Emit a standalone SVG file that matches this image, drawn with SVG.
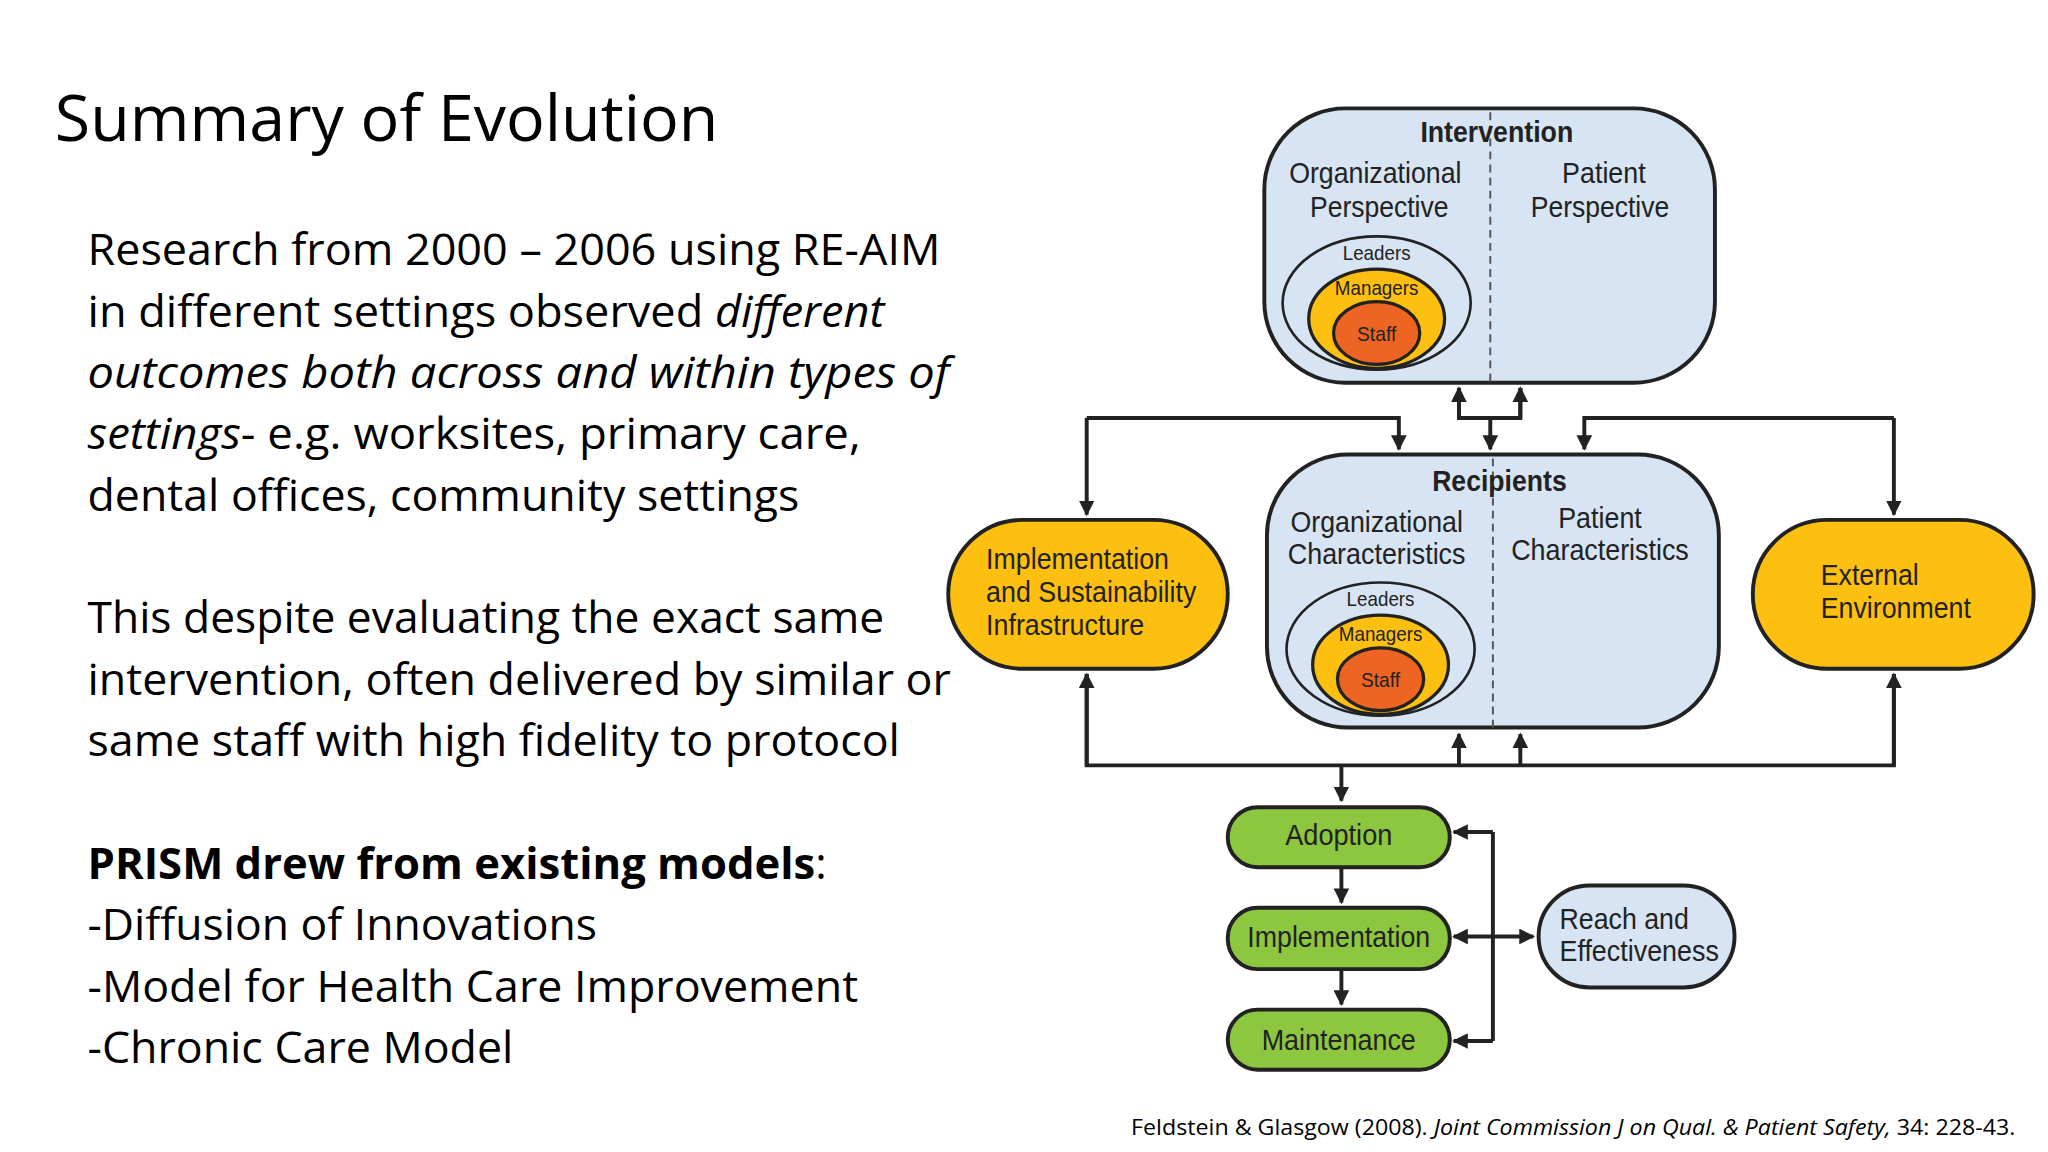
<svg xmlns="http://www.w3.org/2000/svg" width="2048" height="1152" viewBox="0 0 2048 1152">
<defs>
<style>
.t{font-family:"Open Sans","Liberation Sans",sans-serif;fill:#000}
.d{font-family:"Liberation Sans",Arial,sans-serif;fill:#222}
.box{stroke:#222;stroke-width:3}
.ln{fill:none;stroke:#222;stroke-width:3}
</style>
<marker id="a" viewBox="0 0 10 10" refX="9" refY="5" markerWidth="4" markerHeight="4" orient="auto" markerUnits="strokeWidth"><path d="M0,0L10,5L0,10z" fill="#222"/></marker>
</defs>
<rect width="2048" height="1152" fill="#fff"/>
<g transform="scale(1.30612)">
<g id="text">
<text class="t" x="42" y="108" font-size="49" textLength="508" lengthAdjust="spacingAndGlyphs">Summary of Evolution</text>
<g font-size="33">
<text class="t" x="67" y="203" textLength="653" lengthAdjust="spacingAndGlyphs">Research from 2000 – 2006 using RE-AIM</text>
<text class="t" x="67" y="250" textLength="610" lengthAdjust="spacingAndGlyphs">in different settings observed <tspan font-style="italic">different</tspan></text>
<text class="t" x="67" y="297" font-style="italic" textLength="660" lengthAdjust="spacingAndGlyphs">outcomes both across and within types of</text>
<text class="t" x="67" y="344" textLength="592" lengthAdjust="spacingAndGlyphs"><tspan font-style="italic">settings</tspan>- e.g. worksites, primary care,</text>
<text class="t" x="67" y="391" textLength="545" lengthAdjust="spacingAndGlyphs">dental offices, community settings</text>
<text class="t" x="67" y="485" textLength="610" lengthAdjust="spacingAndGlyphs">This despite evaluating the exact same</text>
<text class="t" x="67" y="532" textLength="661" lengthAdjust="spacingAndGlyphs">intervention, often delivered by similar or</text>
<text class="t" x="67" y="579" textLength="622" lengthAdjust="spacingAndGlyphs">same staff with high fidelity to protocol</text>
<text class="t" x="67" y="673" textLength="566" lengthAdjust="spacingAndGlyphs"><tspan font-weight="bold">PRISM  drew from existing models</tspan>:</text>
<text class="t" x="67" y="720" textLength="390" lengthAdjust="spacingAndGlyphs">-Diffusion of Innovations</text>
<text class="t" x="67" y="767" textLength="590" lengthAdjust="spacingAndGlyphs">-Model for Health Care Improvement</text>
<text class="t" x="67" y="814" textLength="326" lengthAdjust="spacingAndGlyphs">-Chronic Care Model</text>
</g>
<text class="t" x="866" y="869" font-size="17" textLength="677" lengthAdjust="spacingAndGlyphs">Feldstein &amp; Glasgow (2008). <tspan font-style="italic">Joint Commission J on Qual. &amp; Patient Safety,</tspan> 34: 228-43.</text>
</g>
<g id="connectors">
<polyline class="ln" points="832,320 1071,320 1071,344" marker-end="url(#a)"/>
<line class="ln" x1="832" y1="320" x2="832" y2="394" marker-end="url(#a)"/>
<polyline class="ln" points="1450,320 1213,320 1213,344" marker-end="url(#a)"/>
<line class="ln" x1="1450" y1="320" x2="1450" y2="394" marker-end="url(#a)"/>
<line class="ln" x1="1141" y1="320" x2="1141" y2="344" marker-end="url(#a)"/>
<polyline class="ln" points="1117,297 1117,320 1164,320 1164,297"/>
<line class="ln" x1="1117" y1="320" x2="1117" y2="297" marker-end="url(#a)"/>
<line class="ln" x1="1164" y1="320" x2="1164" y2="297" marker-end="url(#a)"/>
<polyline class="ln" points="832,516 832,586 1450,586 1450,516"/>
<line class="ln" x1="832" y1="586" x2="832" y2="516" marker-end="url(#a)"/>
<line class="ln" x1="1450" y1="586" x2="1450" y2="516" marker-end="url(#a)"/>
<line class="ln" x1="1117" y1="586" x2="1117" y2="562" marker-end="url(#a)"/>
<line class="ln" x1="1164" y1="586" x2="1164" y2="562" marker-end="url(#a)"/>
<line class="ln" x1="1027" y1="586" x2="1027" y2="613" marker-end="url(#a)"/>
<line class="ln" x1="1027" y1="664" x2="1027" y2="691" marker-end="url(#a)"/>
<line class="ln" x1="1027" y1="742" x2="1027" y2="769" marker-end="url(#a)"/>
<line class="ln" x1="1143" y1="637" x2="1143" y2="797"/>
<line class="ln" x1="1143" y1="637" x2="1113" y2="637" marker-end="url(#a)"/>
<line class="ln" x1="1143" y1="717" x2="1113" y2="717" marker-end="url(#a)"/>
<line class="ln" x1="1143" y1="797" x2="1113" y2="797" marker-end="url(#a)"/>
<line class="ln" x1="1143" y1="717" x2="1174" y2="717" marker-end="url(#a)"/>
</g>
<g id="intervention">
<rect class="box" x="968" y="83" width="345" height="210" rx="62" fill="#d6e4f3"/>
<line x1="1141" y1="86" x2="1141" y2="293" stroke="#555" stroke-width="1.5" stroke-dasharray="6,4"/>
<text class="d" x="1146" y="109" font-size="22" font-weight="bold" text-anchor="middle" textLength="117" lengthAdjust="spacingAndGlyphs">Intervention</text>
<text class="d" x="1053" y="140" font-size="23" text-anchor="middle" textLength="132" lengthAdjust="spacingAndGlyphs">Organizational</text>
<text class="d" x="1056" y="166" font-size="23" text-anchor="middle" textLength="106" lengthAdjust="spacingAndGlyphs">Perspective</text>
<text class="d" x="1228" y="140" font-size="23" text-anchor="middle" textLength="64" lengthAdjust="spacingAndGlyphs">Patient</text>
<text class="d" x="1225" y="166" font-size="23" text-anchor="middle" textLength="106" lengthAdjust="spacingAndGlyphs">Perspective</text>
<ellipse cx="1054" cy="232" rx="72" ry="51" fill="none" stroke="#222" stroke-width="2"/>
<ellipse cx="1054" cy="244" rx="52" ry="38" fill="#fdc010" stroke="#222" stroke-width="2.5"/>
<ellipse cx="1054" cy="255" rx="33" ry="24" fill="#ee6423" stroke="#222" stroke-width="2.5"/>
<text class="d" x="1054" y="199" font-size="15" text-anchor="middle" textLength="52" lengthAdjust="spacingAndGlyphs">Leaders</text>
<text class="d" x="1054" y="226" font-size="15" text-anchor="middle" textLength="64" lengthAdjust="spacingAndGlyphs">Managers</text>
<text class="d" x="1054" y="261" font-size="15" text-anchor="middle" textLength="30" lengthAdjust="spacingAndGlyphs">Staff</text>
</g>
<g id="recipients">
<rect class="box" x="970" y="348" width="346" height="209" rx="62" fill="#d6e4f3"/>
<line x1="1143" y1="351" x2="1143" y2="557" stroke="#555" stroke-width="1.5" stroke-dasharray="6,4"/>
<text class="d" x="1148" y="376" font-size="22" font-weight="bold" text-anchor="middle" textLength="103" lengthAdjust="spacingAndGlyphs">Recipients</text>
<text class="d" x="1054" y="407" font-size="23" text-anchor="middle" textLength="132" lengthAdjust="spacingAndGlyphs">Organizational</text>
<text class="d" x="1054" y="432" font-size="23" text-anchor="middle" textLength="136" lengthAdjust="spacingAndGlyphs">Characteristics</text>
<text class="d" x="1225" y="404" font-size="23" text-anchor="middle" textLength="64" lengthAdjust="spacingAndGlyphs">Patient</text>
<text class="d" x="1225" y="429" font-size="23" text-anchor="middle" textLength="136" lengthAdjust="spacingAndGlyphs">Characteristics</text>
<ellipse cx="1057" cy="497" rx="72" ry="51" fill="none" stroke="#222" stroke-width="2"/>
<ellipse cx="1057" cy="509" rx="52" ry="38" fill="#fdc010" stroke="#222" stroke-width="2.5"/>
<ellipse cx="1057" cy="520" rx="33" ry="24" fill="#ee6423" stroke="#222" stroke-width="2.5"/>
<text class="d" x="1057" y="464" font-size="15" text-anchor="middle" textLength="52" lengthAdjust="spacingAndGlyphs">Leaders</text>
<text class="d" x="1057" y="491" font-size="15" text-anchor="middle" textLength="64" lengthAdjust="spacingAndGlyphs">Managers</text>
<text class="d" x="1057" y="526" font-size="15" text-anchor="middle" textLength="30" lengthAdjust="spacingAndGlyphs">Staff</text>
</g>
<g id="infrastructure">
<rect class="box" x="726" y="398" width="214" height="114" rx="57" fill="#fdc010"/>
<text class="d" x="755" y="436" font-size="23" textLength="140" lengthAdjust="spacingAndGlyphs">Implementation</text>
<text class="d" x="755" y="461" font-size="23" textLength="161" lengthAdjust="spacingAndGlyphs">and Sustainability</text>
<text class="d" x="755" y="486" font-size="23" textLength="121" lengthAdjust="spacingAndGlyphs">Infrastructure</text>
</g>
<g id="external">
<rect class="box" x="1342" y="398" width="215" height="114" rx="57" fill="#fdc010"/>
<text class="d" x="1394" y="448" font-size="23" textLength="75" lengthAdjust="spacingAndGlyphs">External</text>
<text class="d" x="1394" y="473" font-size="23" textLength="115" lengthAdjust="spacingAndGlyphs">Environment</text>
</g>
<g id="adoption">
<rect class="box" x="940" y="618" width="170" height="46" rx="23" fill="#8dc63f"/>
<text class="d" x="1025" y="647" font-size="23" text-anchor="middle" textLength="82" lengthAdjust="spacingAndGlyphs">Adoption</text>
</g>
<g id="implementation">
<rect class="box" x="940" y="695" width="170" height="47" rx="23" fill="#8dc63f"/>
<text class="d" x="1025" y="725" font-size="23" text-anchor="middle" textLength="140" lengthAdjust="spacingAndGlyphs">Implementation</text>
</g>
<g id="maintenance">
<rect class="box" x="940" y="773" width="170" height="46" rx="23" fill="#8dc63f"/>
<text class="d" x="1025" y="804" font-size="23" text-anchor="middle" textLength="118" lengthAdjust="spacingAndGlyphs">Maintenance</text>
</g>
<g id="reach">
<rect class="box" x="1178" y="678" width="150" height="78" rx="39" fill="#d6e4f3"/>
<text class="d" x="1194" y="711" font-size="23" textLength="99" lengthAdjust="spacingAndGlyphs">Reach and</text>
<text class="d" x="1194" y="736" font-size="23" textLength="122" lengthAdjust="spacingAndGlyphs">Effectiveness</text>
</g>
</g>
</svg>
